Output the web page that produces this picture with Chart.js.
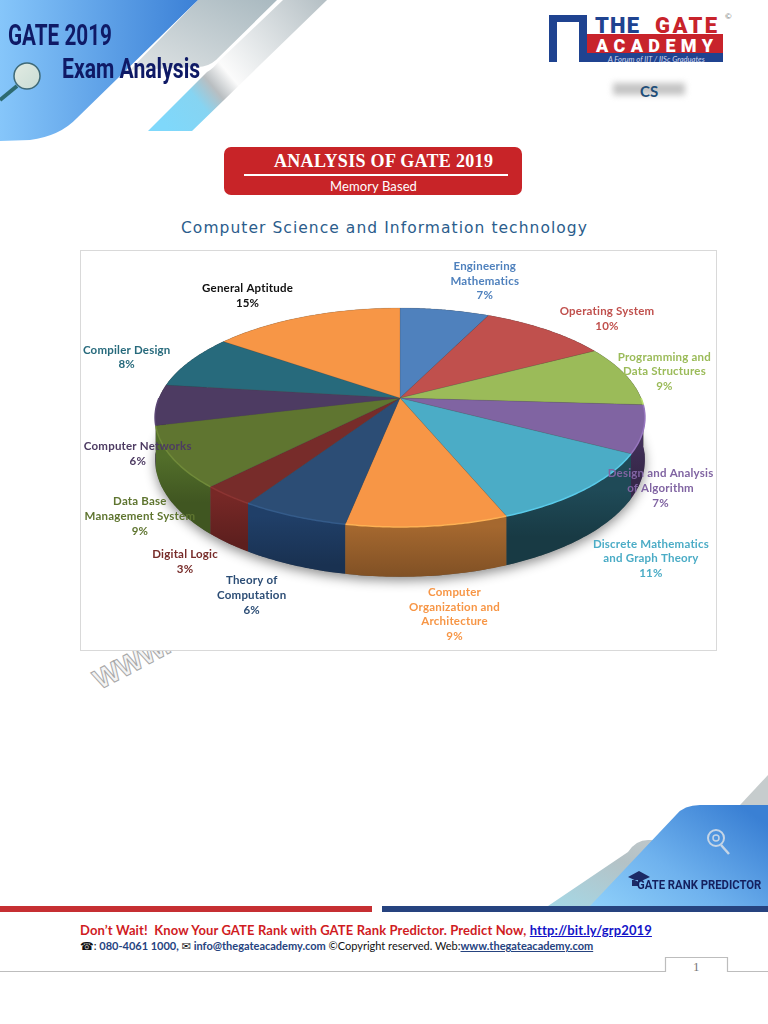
<!DOCTYPE html>
<html lang="en">
<head>
<meta charset="UTF-8">
<title>GATE 2019 Exam Analysis</title>
<script src="https://cdn.jsdelivr.net/npm/chart.js"></script>
<style>
    html, body { margin: 0; padding: 0; background: #fff; }
    body { position: relative; width: 768px; height: 1024px; overflow: hidden; font-family: Lato, sans-serif; }
    .abs { position: absolute; white-space: nowrap; line-height: 1; }
    .narrow { transform-origin: left top; }
    svg.deco { position: absolute; left: 0; top: 0; }
    #panel { position: absolute; left: 80px; top: 250px; width: 635px; height: 399px; background: #fff; border: 1px solid #d9d9d9; }
    #panel canvas { position: absolute; left: 0; top: 0; }
    #redBox { position: absolute; left: 224px; top: 147px; width: 298px; height: 48px; background: #c82428; border-radius: 7px; }
    a { color: inherit; }
</style>
</head>
<body>
<svg class="deco" width="768" height="1024" viewBox="0 0 768 1024">
    <defs>
        <linearGradient id="blueTop" x1="0" y1="0" x2="1" y2="0">
            <stop offset="0" stop-color="#86c6fa"/><stop offset="1" stop-color="#3b80d6"/>
        </linearGradient>
        <linearGradient id="greyBand" x1="0" y1="1" x2="1" y2="0">
            <stop offset="0" stop-color="#dfe3e4"/><stop offset="1" stop-color="#a9b9c0"/>
        </linearGradient>
        <linearGradient id="strip" gradientUnits="userSpaceOnUse" x1="170" y1="131" x2="327" y2="0">
            <stop offset="0" stop-color="#7fd8fb"/><stop offset="0.2" stop-color="#86d4f2"/>
            <stop offset="0.3" stop-color="#b9bec1"/><stop offset="0.4" stop-color="#fbfbfb"/>
            <stop offset="1" stop-color="#b4bfc4"/>
        </linearGradient>
        <linearGradient id="blueBot" x1="0" y1="1" x2="1" y2="0.2">
            <stop offset="0" stop-color="#8fd0fa"/><stop offset="0.45" stop-color="#6fb2ee"/><stop offset="1" stop-color="#3a80d4"/>
        </linearGradient>
        <linearGradient id="greyBot" x1="0" y1="1" x2="1" y2="0">
            <stop offset="0" stop-color="#a5d8e6"/><stop offset="0.6" stop-color="#b4c2c6"/><stop offset="1" stop-color="#c4c9cb"/>
        </linearGradient>
        <linearGradient id="glass" x1="0" y1="0" x2="1" y2="1">
            <stop offset="0" stop-color="#e2ebe2"/><stop offset="1" stop-color="#c9dcd5"/>
        </linearGradient>
    </defs>
    <!-- header shapes -->
    <path d="M130 70 L198 0 L277 0 L216 60 Q208 67 198 67 Z" fill="url(#greyBand)"/>
    <path d="M283 0 L327 0 L192 131 L148 131 L207 72 Q214 68 219 61 Z" fill="url(#strip)"/>
    <path d="M0 0 L198 0 L77 118 Q60 136 30 140 L0 141 Z" fill="url(#blueTop)"/>
    <!-- magnifier -->
    <line x1="17" y1="86" x2="0" y2="100" stroke="#2d6a70" stroke-width="4"/>
    <circle cx="27" cy="76" r="13" fill="url(#glass)" stroke="#3f6a78" stroke-width="1.5"/>
    <!-- logo -->
    <path d="M549 15 H587 V53 H723 V62 H579 V22 H557 V62 H549 Z" fill="#1f4390"/>
    <rect x="587" y="34" width="136" height="19" fill="#c8232b"/>
    <!-- footer shapes -->
    <path d="M740 805 L768 775 L768 805 Z" fill="#c6cccd"/>
    <path d="M548 906 L628 852 Q636 840 648 840 L690 840 L640 906 Z" fill="url(#greyBot)"/>
    <path d="M590 906 L676 815 Q684 805 700 805 L768 805 L768 906 Z" fill="url(#blueBot)"/>
    <circle cx="716" cy="838" r="8" fill="none" stroke="#c5d5e6" stroke-width="2"/>
    <circle cx="716" cy="838" r="3" fill="none" stroke="#c5d5e6" stroke-width="1.5"/>
    <line x1="721" y1="845" x2="729" y2="854" stroke="#c5d5e6" stroke-width="2.5"/>
    <path d="M628 877 L639 871 L650 877 L639 882 Z M632 880 V886 H638 V880 Z" fill="#1c2a66"/>
    <rect x="0" y="906" width="372" height="6" fill="#c62f32"/>
    <rect x="382" y="906" width="386" height="6" fill="#26437f"/>
    <path d="M0 971.5 H665.5 V957.5 H727.5 V971.5 H768" fill="none" stroke="#bdbdbd" stroke-width="1.2"/>
</svg>

<div class="abs narrow" style="left:8px;top:17px;font:bold 30px Roboto,sans-serif;color:#0f1a66;transform:scaleX(.69);">GATE 2019</div>
<div class="abs narrow" style="left:62px;top:52px;font:bold 28px Roboto,sans-serif;color:#0f1a66;transform:scaleX(.755);">Exam Analysis</div>

<div class="abs" style="left:595px;top:13px;font:900 22px Roboto,sans-serif;color:#1f4390;letter-spacing:1.2px;">THE</div>
<div class="abs" style="left:655px;top:13px;font:900 22px Roboto,sans-serif;color:#c8232b;letter-spacing:2.4px;">GATE</div>
<div class="abs" style="left:725px;top:11px;font:8px Lato,sans-serif;color:#777;">©</div>
<div class="abs" style="left:596px;top:35px;font:900 18px Roboto,sans-serif;color:#fff;letter-spacing:5.4px;">ACADEMY</div>
<div class="abs" style="left:608px;top:54px;font:italic 7.6px Lato,sans-serif;color:#cfd8ee;">A Forum of IIT / IISc Graduates</div>

<div class="abs" style="left:613px;top:83px;width:72px;height:12px;background:#c4c4c4;filter:blur(3px);"></div>
<div class="abs" style="left:640px;top:82px;font:bold 15px Lato,sans-serif;color:#1f4e79;">CS</div>

<div id="redBox"></div>
<div class="abs" style="left:274px;top:151px;font:bold 18px 'Liberation Serif',serif;color:#fff;letter-spacing:.3px;">ANALYSIS OF GATE 2019</div>
<div class="abs" style="left:244px;top:174px;width:264px;height:2px;background:#fff;"></div>
<div class="abs" style="left:330px;top:178px;font:13px Lato,sans-serif;color:#fff;letter-spacing:.1px;">Memory Based</div>
<div class="abs" style="left:181px;top:219px;font:15.5px 'DejaVu Sans',sans-serif;color:#2b5d8c;letter-spacing:1.05px;">Computer Science and Information technology</div>

<div class="abs" style="left:88px;top:668px;font:bold 28px 'Liberation Sans',sans-serif;color:#f4f4f4;-webkit-text-stroke:1px #a8a8a8;transform:rotate(-28deg);transform-origin:left top;letter-spacing:-1px;">WWW.THEGATE</div>

<div id="panel"><canvas id="pieChart" width="635" height="399"></canvas></div>

<div class="abs narrow" style="left:637px;top:877px;font:bold 13px Roboto,sans-serif;color:#14205f;transform:scaleX(.87);">GATE RANK PREDICTOR</div>

<div class="abs" style="left:80px;top:922px;font:bold 13px Lato,sans-serif;color:#d01c1f;letter-spacing:.12px;">Don’t Wait!&nbsp; Know Your GATE Rank with GATE Rank Predictor. Predict Now, <a href="#" style="color:#1414c8;">http://bit.ly/grp2019</a></div>
<div class="abs" style="left:80px;top:939px;font:11px Lato,sans-serif;color:#111;"><span style="font-family:'DejaVu Sans';">☎</span>: <b style="color:#26437f;">080-4061 1000,</b> <span style="font-family:'DejaVu Sans';">✉</span> <b style="color:#26437f;">info@thegateacademy.com</b> ©Copyright reserved. Web:<a href="#" style="color:#26437f;font-weight:700;">www.thegateacademy.com</a></div>
<div class="abs" style="left:693px;top:959px;font:13px 'Liberation Serif',serif;color:#777;">1</div>

<script>
    var categories = [
        ['Engineering', 'Mathematics'],
        ['Operating System'],
        ['Programming and', 'Data Structures'],
        ['Design and Analysis', 'of Algorithm'],
        ['Discrete Mathematics', 'and Graph Theory'],
        ['Computer', 'Organization and', 'Architecture'],
        ['Theory of', 'Computation'],
        ['Digital Logic'],
        ['Data Base', 'Management System'],
        ['Computer Networks'],
        ['Compiler Design'],
        ['General Aptitude']
    ];
    var shares = [7, 10, 9, 7, 11, 9, 6, 3, 9, 6, 8, 15];

    var sliceColors = ['#4f81bd', '#c0504d', '#9bbb59', '#8064a2', '#4bacc6', '#f79646', '#2c4d75', '#772c2a', '#5f7530', '#4d3b62', '#276a7c', '#f79646'];
    var wallColors = ['#2f4e74', '#7a302e', '#5f7336', '#46335f', '#1f4a57', '#a5682f', '#203f68', '#772826', '#526e2a', '#3a2c4a', '#1d4f5d', '#a5682f'];
    var labelColors = ['#4f81bd', '#c0504d', '#9bbb59', '#8064a2', '#4bacc6', '#f79646', '#2c4d75', '#772c2a', '#5f7530', '#4d3b62', '#276a7c', '#111111'];
    // label centre relative to the middle of the slice's rim
    var labelNudge = [[40, -29], [61, -11], [38, -4], [17, 59], [67, 69], [27, 88], [-42, 79], [-43, 66], [-32, 59], [-19, 49], [-63, -4], [-58, -21]];

    // perspective of the tilted disc, in multiples of the pie radius
    var stretchX = 2.41, stretchY = 1.06, tilt = 0.178, thickness = 0.41;

    function project(arc, angle, drop) {
        var u = Math.cos(angle), v = -Math.sin(angle), d = 1 + tilt * v, r = arc.outerRadius;
        return {
            x: arc.x + stretchX * r * u / d,
            y: arc.y - stretchY * r * v / d + (drop ? thickness * r / d : 0)
        };
    }

    function rim(arc, from, to, drop) {
        var pts = [], n = 48;
        for (var i = 0; i <= n; i++) pts.push(project(arc, from + (to - from) * i / n, drop));
        return pts;
    }

    function trace(ctx, pts, start) {
        pts.forEach(function (p, i) {
            if (i === 0 && start) ctx.moveTo(p.x, p.y); else ctx.lineTo(p.x, p.y);
        });
    }

    var tiltedPie = {
        id: 'tiltedPie',
        beforeDatasetDraw: function (chart, args) {
            var ctx = chart.ctx, arcs = args.meta.data;

            // soft shadow under the disc
            ctx.save();
            ctx.shadowColor = 'rgba(0,0,0,0.45)';
            ctx.shadowBlur = 12;
            ctx.shadowOffsetY = 4;
            ctx.fillStyle = '#555';
            ctx.beginPath();
            trace(ctx, rim(arcs[0], -Math.PI / 2, Math.PI * 1.5, true), true);
            ctx.closePath();
            ctx.fill();
            ctx.restore();

            // side walls, back to front
            var order = arcs.map(function (a, i) { return i; }).sort(function (a, b) {
                return Math.sin((arcs[a].startAngle + arcs[a].endAngle) / 2) - Math.sin((arcs[b].startAngle + arcs[b].endAngle) / 2);
            });
            order.forEach(function (i) {
                var a = arcs[i], top = rim(a, a.startAngle, a.endAngle, false), low = rim(a, a.startAngle, a.endAngle, true).reverse();
                var grad = ctx.createLinearGradient(0, top[24].y, 0, low[24].y);
                grad.addColorStop(0, wallColors[i]);
                grad.addColorStop(1, shade(wallColors[i], 0.78));
                ctx.fillStyle = grad;
                ctx.beginPath();
                trace(ctx, top, true);
                trace(ctx, low, false);
                ctx.closePath();
                ctx.fill();
            });

            // top face
            arcs.forEach(function (a, i) {
                ctx.fillStyle = sliceColors[i];
                ctx.beginPath();
                ctx.moveTo(a.x, a.y);
                trace(ctx, rim(a, a.startAngle, a.endAngle, false), false);
                ctx.closePath();
                ctx.fill();
                ctx.strokeStyle = 'rgba(70,70,70,0.25)';
                ctx.lineWidth = 0.6;
                ctx.stroke();
            });

            // bevel highlight along the front rim
            arcs.forEach(function (a, i) {
                var from = Math.max(a.startAngle, 0), to = Math.min(a.endAngle, Math.PI);
                if (to <= from) return;
                ctx.strokeStyle = shade(sliceColors[i], 1.18);
                ctx.lineWidth = 1.5;
                ctx.beginPath();
                trace(ctx, rim(a, from, to, false), true);
                ctx.stroke();
            });
            return false;
        },
        afterDraw: function (chart) {
            var ctx = chart.ctx, arcs = chart.getDatasetMeta(0).data;
            ctx.save();
            ctx.font = 'bold 11.5px Lato, sans-serif';
            ctx.letterSpacing = '0.2px';
            ctx.textAlign = 'center';
            ctx.textBaseline = 'middle';
            arcs.forEach(function (a, i) {
                var mid = project(a, (a.startAngle + a.endAngle) / 2, false);
                var lines = categories[i].concat(shares[i] + '%');
                var cx = mid.x + labelNudge[i][0];
                var cy = mid.y + labelNudge[i][1] - (lines.length - 1) * 7.4;
                ctx.fillStyle = labelColors[i];
                lines.forEach(function (line, k) {
                    ctx.fillText(line, cx, cy + k * 14.8);
                });
            });
            ctx.restore();
        }
    };

    function shade(hex, f) {
        var n = parseInt(hex.slice(1), 16);
        var c = [n >> 16, (n >> 8) & 255, n & 255].map(function (v) { return Math.min(255, Math.round(v * f)); });
        return 'rgb(' + c.join(',') + ')';
    }

    new Chart(document.getElementById('pieChart').getContext('2d'), {
        type: 'pie',
        data: {
            labels: categories.map(function (c) { return c.join(' '); }),
            datasets: [{ data: shares, backgroundColor: sliceColors, borderWidth: 0 }]
        },
        options: {
            responsive: false,
            animation: false,
            radius: 100,
            layout: { padding: { left: 3, bottom: 105 } },
            plugins: { legend: { display: false }, tooltip: { enabled: false } }
        },
        plugins: [tiltedPie]
    });
</script>
</body>
</html>
